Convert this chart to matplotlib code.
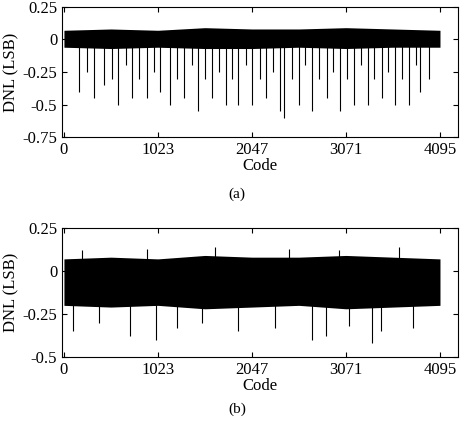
import matplotlib
matplotlib.use("Agg")
import matplotlib.pyplot as plt

plt.rcParams['font.family'] = ['Liberation Serif', 'DejaVu Serif']

# Panel (a): typical band and notable spikes
a_band_codes = [0, 512, 1023, 1535, 2047, 2559, 3071, 3583, 4095]
a_band_low = [-0.06, -0.07, -0.06, -0.07, -0.07, -0.06, -0.07, -0.06, -0.06]
a_band_high = [0.07, 0.08, 0.07, 0.09, 0.08, 0.08, 0.09, 0.08, 0.07]
a_spike_codes = [160, 330, 440, 590, 740, 900, 1050, 1150, 1310, 1460, 1610, 1760, 1900,
                 2050, 2200, 2350, 2400, 2560, 2700, 2860, 3010, 3160, 3310, 3460, 3610,
                 3760, 3880, 250, 520, 680, 820, 980, 1230, 1390, 1540, 1690, 1830, 1980,
                 2130, 2280, 2480, 2630, 2780, 2930, 3080, 3230, 3380, 3530, 3680, 3830, 3980]
a_spike_vals = [-0.4, -0.45, -0.35, -0.5, -0.45, -0.45, -0.4, -0.5, -0.45, -0.55, -0.45,
                -0.5, -0.5, -0.5, -0.45, -0.55, -0.6, -0.5, -0.55, -0.45, -0.55, -0.5,
                -0.5, -0.45, -0.5, -0.5, -0.4, -0.25, -0.3, -0.2, -0.3, -0.25, -0.3, -0.2,
                -0.3, -0.25, -0.3, -0.2, -0.3, -0.25, -0.3, -0.2, -0.3, -0.25, -0.3, -0.2,
                -0.3, -0.25, -0.3, -0.2, -0.3]

# Panel (b)
b_band_codes = [0, 512, 1023, 1535, 2047, 2559, 3071, 3583, 4095]
b_band_low = [-0.2, -0.21, -0.2, -0.22, -0.21, -0.2, -0.22, -0.21, -0.2]
b_band_high = [0.07, 0.08, 0.07, 0.09, 0.08, 0.08, 0.09, 0.08, 0.07]
b_spike_codes = [100, 380, 720, 1000, 1230, 1500, 1900, 2300, 2700, 2850, 3100, 3350, 3450,
                 3800, 200, 900, 1640, 2450, 3000, 3650]
b_spike_vals = [-0.35, -0.3, -0.38, -0.4, -0.33, -0.3, -0.35, -0.33, -0.4, -0.38, -0.32,
                -0.42, -0.35, -0.33, 0.12, 0.13, 0.14, 0.13, 0.12, 0.14]

fig = plt.figure(figsize=(4.74, 4.26), dpi=100)
xticks = [0, 1023, 2047, 3071, 4095]

def panel(rect, codes, lo, hi, sc, sv, ylim, yticks, yl, tag, tagy):
    ax = fig.add_axes(rect)
    ax.fill_between(codes, lo, hi, color='black', lw=0)
    ax.vlines(sc, 0, sv, color='black', lw=0.8)
    ax.set_xlim(-20, 4290)
    ax.set_ylim(*ylim)
    ax.set_xticks(xticks)
    ax.set_yticks(yticks)
    ax.set_yticklabels(yl)
    ax.tick_params(direction='in', labelsize=12, top=True, right=True)
    ax.set_xlabel('Code', fontsize=12, labelpad=0)
    ax.set_ylabel('DNL (LSB)', fontsize=12, labelpad=2)
    fig.text(0.5, tagy, tag, ha='center', fontsize=11)
    return ax

panel([0.131, 0.678, 0.835, 0.306], a_band_codes, a_band_low, a_band_high,
      a_spike_codes, a_spike_vals, (-0.75, 0.25), [-0.75, -0.5, -0.25, 0, 0.25],
      ['-0.75', '-0.5', '-0.25', '0', '0.25'], '(a)', 0.535)
panel([0.131, 0.162, 0.835, 0.303], b_band_codes, b_band_low, b_band_high,
      b_spike_codes, b_spike_vals, (-0.5, 0.25), [-0.5, -0.25, 0, 0.25],
      ['-0.5', '-0.25', '0', '0.25'], '(b)', 0.03)

fig.savefig('out.png', dpi=100)
